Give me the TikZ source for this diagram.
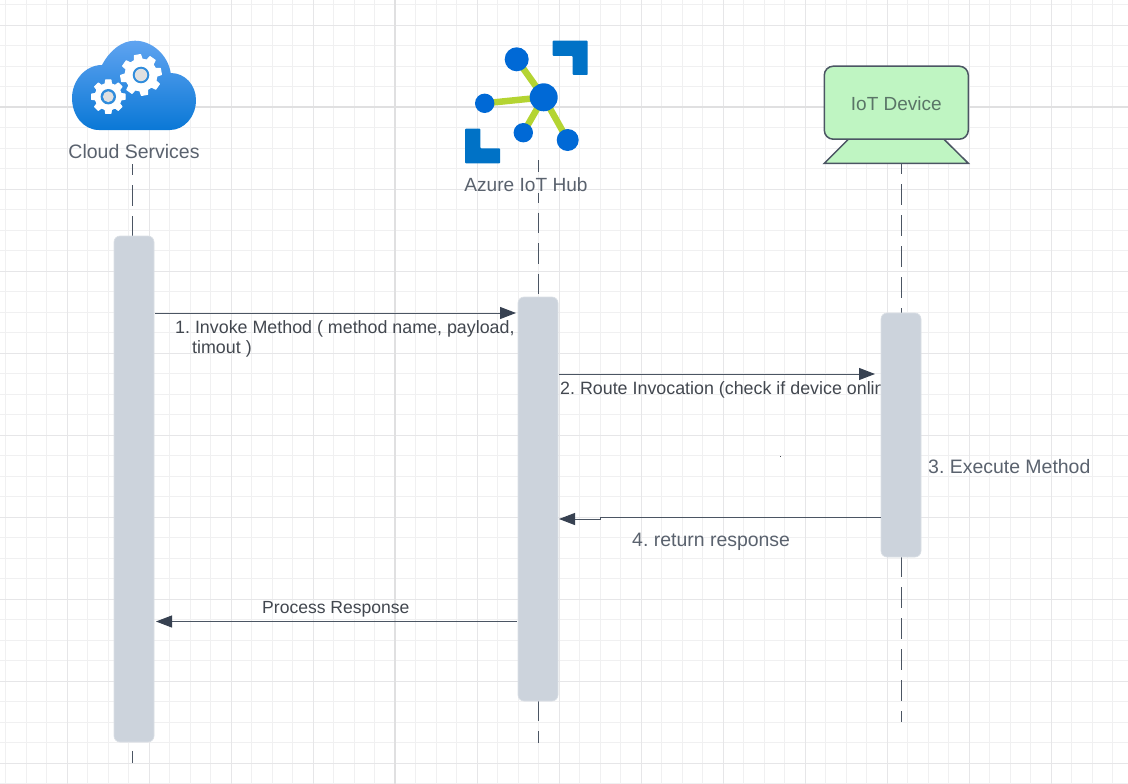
\documentclass[tikz,border=0pt]{standalone}
\usepackage{fontspec}
\setmainfont{Liberation Sans}
\frenchspacing
\usetikzlibrary{arrows.meta,calc}
\definecolor{gridminor}{HTML}{F0F0F1}
\definecolor{gridmajor}{HTML}{E6E6E8}
\definecolor{gridheavy}{HTML}{E0E0E1}
\definecolor{barfill}{HTML}{CCD3DC}
\definecolor{linecol}{HTML}{4B5563}
\definecolor{headcol}{HTML}{374151}
\definecolor{labelcol}{HTML}{5A626E}
\definecolor{msgcol}{HTML}{42474F}
\definecolor{cloudtop}{HTML}{5FA3F0}
\definecolor{cloudbot}{HTML}{0A78D6}
\definecolor{hubblue}{HTML}{0069D6}
\definecolor{hubcorner}{HTML}{0072C6}
\definecolor{hubgreen}{HTML}{B4D432}
\definecolor{devfill}{HTML}{BFF5C2}
\definecolor{devtext}{HTML}{5A7567}
\definecolor{geargray}{HTML}{E0E0E0}
\tikzset{
  lifeline/.style={draw=linecol,line width=1pt},
  activation/.style={draw=barfill!70!white,line width=.6pt,fill=barfill,rounded corners=6pt,minimum width=40pt,inner sep=0pt,outer sep=0pt},
  msg/.style={draw=linecol,line width=1pt,-{Triangle[length=16pt,width=12pt,color=headcol]}},
  actorlabel/.style={text=labelcol,font=\fontsize{19.5}{23}\selectfont,inner sep=0pt},
  msglabel/.style={text=msgcol,font=\fontsize{17.85}{20.5}\selectfont,inner sep=0pt,anchor=west},
  stepnote/.style={msglabel,text=labelcol,font=\fontsize{19.45}{22}\selectfont},
  hubdot/.style={fill=hubblue},
  hublink/.style={draw=hubgreen,line width=6.5pt},
  hubbracket/.style={fill=hubcorner,rounded corners=.8pt},
  deviceshape/.style={draw=linecol,line width=1.5pt,fill=devfill},
}
\newcommand{\gearshape}[4]{% x, y, outer radius, rotation
  \begin{scope}[shift={(#1,#2)},rotate=#4]
    \fill[white,line join=round,draw=white,line width=1pt]
      (-14:.78*#3)
      \foreach \a in {0,45,...,315} {
        -- (\a-14:.78*#3) -- (\a-9:#3) -- (\a+9:#3) -- (\a+14:.78*#3)
      } -- cycle;
  \end{scope}
}
\begin{document}
\begin{tikzpicture}[x=1pt,y=-1pt]
\useasboundingbox (0,0) rectangle (1128,784);
\fill[white] (0,0) rectangle (1128,784);
% grid
\foreach \i in {-3,...,52} {
  \pgfmathsetmacro{\gx}{67.3+20.5*\i}
  \draw[gridminor,line width=1.1pt] (\gx,0) -- (\gx,784);
}
\foreach \i in {-5,...,33} {
  \pgfmathsetmacro{\gy}{107.3+20.5*\i}
  \draw[gridminor,line width=1.1pt] (0,\gy) -- (1128,\gy);
}
\foreach \i in {-1,...,13} {
  \pgfmathsetmacro{\gx}{67.3+82*\i}
  \draw[gridmajor,line width=1.2pt] (\gx,0) -- (\gx,784);
}
\foreach \i in {-1,...,8} {
  \pgfmathsetmacro{\gy}{107.3+82*\i}
  \draw[gridmajor,line width=1.2pt] (0,\gy) -- (1128,\gy);
}
\draw[gridheavy,line width=1.8pt] (395.3,0) -- (395.3,784);
\draw[gridheavy,line width=1.8pt] (0,107.3) -- (1128,107.3);

% speck
\fill[msgcol] (780,456) rectangle (781,457);

% cloud icon
\shade[top color=cloudtop,bottom color=cloudbot]
  (99,130) .. controls (83,130) and (72,115) .. (72,98)
  .. controls (72,81) and (85,65) .. (102,65)
  .. controls (110,50) and (122,40.7) .. (135,40.7)
  .. controls (152,40.7) and (168,55) .. (170.7,73)
  .. controls (185,73) and (196,85) .. (196,100)
  .. controls (196,117) and (184,130) .. (170,130) -- cycle;
\gearshape{141}{75}{20.5}{10}
\gearshape{108.3}{96.7}{17}{0}
\fill[cloudbot!85!white] (141,75) circle (8.3);
\fill[geargray] (141,75) circle (6.2);
\fill[cloudbot!85!white] (108.3,96.7) circle (7.7);
\fill[geargray] (108.3,96.7) circle (5.4);
\node[actorlabel] (cloudlabel) at (134,151.5) {Cloud Services};

% hub icon
\coordinate (hubcore) at (543.7,97.3);
\coordinate (huba) at (516.7,59.3);
\coordinate (hubb) at (484.7,103.3);
\coordinate (hubc) at (523.3,132.7);
\coordinate (hubd) at (567.7,140);
\draw[hublink] (hubcore) -- (huba);
\draw[hublink] (hubcore) -- (hubb);
\draw[hublink] (hubcore) -- (hubc);
\draw[hublink] (hubcore) -- (hubd);
\fill[hubdot] (hubcore) circle (14);
\fill[hubdot] (huba) circle (12);
\fill[hubdot] (hubb) circle (9.7);
\fill[hubdot] (hubc) circle (9.7);
\fill[hubdot] (hubd) circle (11);
\fill[hubbracket] (552.7,40.7) -- (587.7,40.7) -- (587.7,75) -- (572.7,75) -- (572.7,56) -- (552.7,56) -- cycle;
\fill[hubbracket] (465,128.7) -- (480.3,128.7) -- (480.3,148.3) -- (500,148.3) -- (500,163.3) -- (465,163.3) -- cycle;
\node[actorlabel,font=\fontsize{19.1}{23}\selectfont] (hublabel) at (526,184.5) {Azure IoT Hub};

% device icon
\draw[deviceshape,line join=miter] (848.3,139.3) -- (824.3,163.3) -- (968.3,163.3) -- (944,139.3);
\node[deviceshape,rounded corners=9pt,minimum width=144pt,minimum height=73pt,inner sep=0pt,outer sep=0pt,text=devtext,text height=16pt,font=\fontsize{19}{23}\selectfont] (device) at (896.3,102.7) {IoT Device};

% lifelines
\coordinate (cloudtopend) at (132.3,164);
\coordinate (cloudbotend) at (132.3,763);
\coordinate (hubtopend) at (538,160);
\coordinate (hubgapa) at (538,172);
\coordinate (hubgapb) at (538,193);
\coordinate (hubbotend) at (538,743);
\coordinate (devtopend) at (901,164);
\coordinate (devbotend) at (901,722);
\draw[lifeline,dash pattern=on 21.44pt off 10pt,dash phase=10.4pt] (cloudtopend) -- (cloudbotend);
\draw[lifeline] (hubtopend) -- (hubgapa);
\draw[lifeline,dash pattern=on 20.5pt off 10pt,dash phase=11pt] (hubgapb) -- (hubbotend);
\draw[lifeline,dash pattern=on 21pt off 10pt,dash phase=11pt] (devtopend) -- (devbotend);

% message labels (behind the bars)
\node[msglabel,align=left] (m1label) at (175,339) {1. Invoke Method ( method name, payload,\\\hspace{17pt}timout )};
\node[msglabel] (m2label) at (560,389.5) {2. Route Invocation (check if device online)};
\node[stepnote] (m3label) at (928,466.5) {3. Execute Method};
\node[stepnote] (m4label) at (632,541.5) {4. return response};
\node[msglabel,font=\fontsize{17.55}{20.5}\selectfont] (m5label) at (262,609) {Process Response};

% activation bars
\node[activation,minimum height=506pt] (cloudbar) at (134,489) {};
\node[activation,minimum height=404pt] (hubbar) at (538,499) {};
\node[activation,minimum height=244pt] (devbar) at (901,435) {};

% messages
\coordinate (y1) at (0,313);
\coordinate (y2) at (0,374);
\coordinate (y4) at (0,517.6);
\coordinate (y4b) at (0,519);
\coordinate (y5) at (0,621.5);
\coordinate (jog) at (600,0);
\draw[msg,shorten <=1pt,shorten >=2pt] (cloudbar.east |- y1) -- (hubbar.west |- y1);
\draw[msg,shorten <=1pt,shorten >=6pt] (hubbar.east |- y2) -- (devbar.west |- y2);
\draw[msg,shorten >=1pt] (devbar.west |- y4) -- (jog |- y4) -- (jog |- y4b) -- (hubbar.east |- y4b);
\draw[msg,shorten <=1pt,shorten >=2pt] (hubbar.west |- y5) -- (cloudbar.east |- y5);
\end{tikzpicture}
\end{document}
